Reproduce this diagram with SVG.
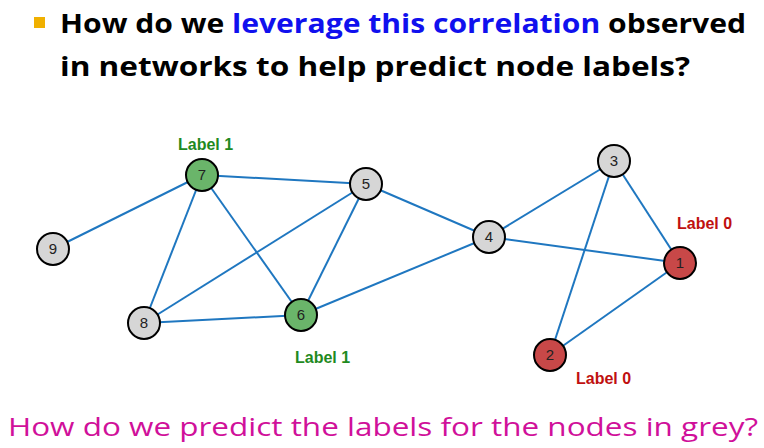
<svg xmlns="http://www.w3.org/2000/svg" width="764" height="448" viewBox="0 0 764 448">
<style>
.t{font-family:"Open Sans","Liberation Sans",sans-serif;font-weight:bold;font-size:27px;fill:#000}
.e{stroke:#1f77c0;stroke-width:2}
.n circle{stroke:#000;stroke-width:2}
.n text{font-family:"Liberation Sans",Arial,sans-serif;font-size:15px;text-anchor:middle;fill:#222}
.g{fill:#6ab56a}.r{fill:#c84848}.w{fill:#d6d6d6}
.lg{font-family:"Liberation Sans",Arial,sans-serif;font-weight:bold;font-size:16px;fill:#1f8a1f}
.lr{font-family:"Liberation Sans",Arial,sans-serif;font-weight:bold;font-size:16px;fill:#c01010}
</style>
<rect width="764" height="448" fill="#fff"/>
<rect x="34" y="17" width="11" height="11" fill="#f0b000"/>
<text class="t" x="60" y="33" textLength="686" lengthAdjust="spacingAndGlyphs">How do we <tspan fill="#1010ee">leverage this correlation</tspan> observed</text>
<text class="t" x="60" y="76" textLength="630" lengthAdjust="spacingAndGlyphs">in networks to help predict node labels?</text>
<g id="edges">
<line class="e" x1="202" y1="175" x2="366" y2="184"/>
<line class="e" x1="202" y1="175" x2="53" y2="249"/>
<line class="e" x1="202" y1="175" x2="144" y2="323"/>
<line class="e" x1="202" y1="175" x2="301" y2="315"/>
<line class="e" x1="366" y1="184" x2="144" y2="323"/>
<line class="e" x1="366" y1="184" x2="301" y2="315"/>
<line class="e" x1="366" y1="184" x2="489" y2="237"/>
<line class="e" x1="301" y1="315" x2="144" y2="323"/>
<line class="e" x1="301" y1="315" x2="489" y2="237"/>
<line class="e" x1="489" y1="237" x2="614" y2="161"/>
<line class="e" x1="489" y1="237" x2="680" y2="263"/>
<line class="e" x1="614" y1="161" x2="680" y2="263"/>
<line class="e" x1="614" y1="161" x2="550" y2="355"/>
<line class="e" x1="680" y1="263" x2="550" y2="355"/>
</g>
<g id="n7" class="n"><circle class="g" cx="202" cy="175" r="16"/><text x="202" y="180">7</text></g>
<g id="n5" class="n"><circle class="w" cx="366" cy="184" r="16"/><text x="366" y="189">5</text></g>
<g id="n9" class="n"><circle class="w" cx="53" cy="249" r="16"/><text x="53" y="254">9</text></g>
<g id="n8" class="n"><circle class="w" cx="144" cy="323" r="16"/><text x="144" y="328">8</text></g>
<g id="n6" class="n"><circle class="g" cx="301" cy="315" r="16"/><text x="301" y="320">6</text></g>
<g id="n4" class="n"><circle class="w" cx="489" cy="237" r="16"/><text x="489" y="242">4</text></g>
<g id="n3" class="n"><circle class="w" cx="614" cy="161" r="16"/><text x="614" y="166">3</text></g>
<g id="n1" class="n"><circle class="r" cx="680" cy="263" r="16"/><text x="680" y="268">1</text></g>
<g id="n2" class="n"><circle class="r" cx="550" cy="355" r="16"/><text x="550" y="360">2</text></g>
<text class="lg" x="178" y="150">Label 1</text>
<text class="lg" x="295" y="363">Label 1</text>
<text class="lr" x="677" y="229">Label 0</text>
<text class="lr" x="576" y="384">Label 0</text>
<text x="8" y="436" font-family="'Open Sans','Liberation Sans',sans-serif" font-size="26" fill="#d0109a" textLength="750" lengthAdjust="spacingAndGlyphs">How do we predict the labels for the nodes in grey?</text>
</svg>
